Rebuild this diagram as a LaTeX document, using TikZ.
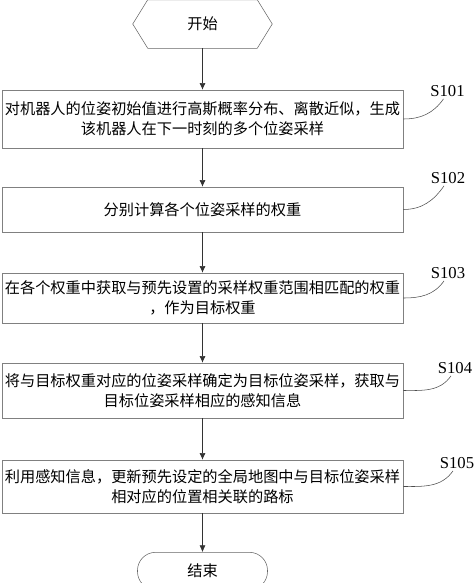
\documentclass[tikz,border=0pt]{standalone}
\usepackage{fontspec}
\setmainfont{Liberation Serif}
\newfontfamily\cjk{Noto Sans CJK SC}
\usetikzlibrary{arrows.meta}
\begin{document}
\begin{tikzpicture}[x=0.75pt, y=-0.75pt,
  stepbox/.style = {draw=gray, minimum width=300.75pt, minimum height=#1,
    inner sep=1pt, align=center, font=\cjk\fontsize{11.4}{15}\selectfont},
  hexbox/.style = {minimum width=81.75pt, minimum height=36pt,
    font=\cjk\fontsize{11.4}{15}\selectfont,
    append after command={%
      \pgfextra{
        \draw[gray!80!black] (\tikzlastnode.north west) -- (\tikzlastnode.north east)
          -- ([xshift=11.25pt]\tikzlastnode.east) -- (\tikzlastnode.south east)
          -- (\tikzlastnode.south west) -- ([xshift=-11.25pt]\tikzlastnode.west) -- cycle;
      }
    }
  },
  endbox/.style = {draw=gray!80!black, rounded corners=13.5pt, minimum width=97.5pt,
    minimum height=28pt, font=\cjk\fontsize{11.4}{15}\selectfont},
  tag/.style = {font=\fontsize{12.5}{14}\selectfont, inner sep=1.5pt},
  flow/.style = {draw=black!80, -{Latex[length=5pt,width=4.5pt]}},
  hook/.style = {draw=black!70}
]
    \useasboundingbox (0,0) rectangle (474,583);
    % steps
    \node[hexbox] (start) at (202.5,24) {开始};
    \node[stepbox=43.5pt] (B1) at (202.5,119) {对机器人的位姿初始值进行高斯概率分布、离散近似，生成\\该机器人在下一时刻的多个位姿采样};
    \node[stepbox=33.75pt] (B2) at (202.5,209.5) {分别计算各个位姿采样的权重};
    \node[stepbox=37.5pt] (B3) at (202.5,298) {在各个权重中获取与预先设置的采样权重范围相匹配的权重\\，作为目标权重};
    \node[stepbox=41.25pt] (B4) at (202.5,390.5) {将与目标权重对应的位姿采样确定为目标位姿采样，获取与\\目标位姿采样相应的感知信息};
    \node[stepbox=39.75pt] (B5) at (202.5,486.5) {利用感知信息，更新预先设定的全局地图中与目标位姿采样\\相对应的位置相关联的路标};
    \node[endbox] (E) at (202.5,571) {结束};
    % labels
    \node[tag] (S101) at (447.5,91) {S101};
    \node[tag] (S102) at (448,178) {S102};
    \node[tag] (S103) at (448,273) {S103};
    \node[tag] (S104) at (455,368) {S104};
    \node[tag] (S105) at (457,463) {S105};
    % arrows
    \draw[flow] (start) -- (B1);
    \draw[flow] (B1) -- (B2);
    \draw[flow] (B2) -- (B3);
    \draw[flow] (B3) -- (B4);
    \draw[flow] (B4) -- (B5);
    \draw[flow] (B5) -- (E);
    \foreach \b/\s in {B1/S101,B2/S102,B3/S103,B4/S104,B5/S105}
        \draw[hook] (\b.east) to[out=0, in=235] ([xshift=-3pt]\s.south);
\end{tikzpicture}
\end{document}
